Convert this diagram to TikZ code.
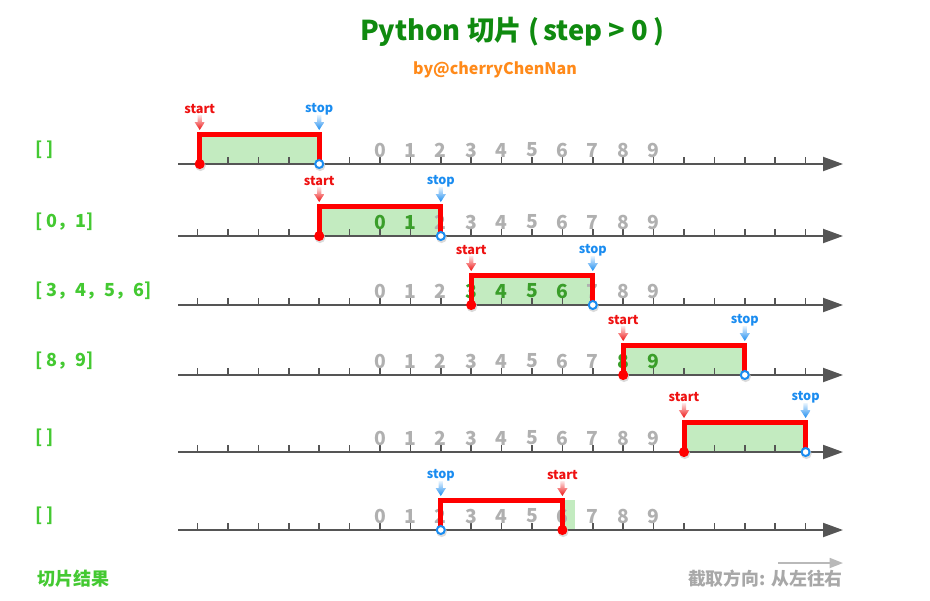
\documentclass[tikz,border=0pt]{standalone}
\usepackage{fontspec}
\setmainfont{Noto Sans CJK SC}
\usetikzlibrary{arrows.meta}

\definecolor{titlegreen}{RGB}{15,138,15}
\definecolor{authorange}{RGB}{255,138,26}
\definecolor{resgreen}{RGB}{68,201,50}
\definecolor{digitgreen}{RGB}{58,158,42}
\definecolor{digitgray}{RGB}{176,176,176}
\definecolor{axisgray}{RGB}{85,85,85}
\definecolor{slicegreen}{RGB}{195,235,192}
\definecolor{boxred}{RGB}{255,0,0}
\definecolor{startred}{RGB}{238,17,17}
\definecolor{stopblue}{RGB}{26,140,240}
\definecolor{notegray}{RGB}{168,168,168}

\begin{document}
\begin{tikzpicture}[
  x=0.75pt, y=-0.75pt,
  title/.style={font=\bfseries\fontsize{20.5}{24}\selectfont, text=titlegreen},
  author/.style={font=\bfseries\fontsize{12}{14}\selectfont, text=authorange},
  result/.style={font=\bfseries\fontsize{13.5}{15}\selectfont, text=resgreen, anchor=west, inner sep=0pt},
  note/.style={font=\bfseries\fontsize{13.4}{15}\selectfont, text=notegray, anchor=east, inner sep=0pt},
  digit/.style={font=\bfseries\fontsize{14.5}{16}\selectfont, inner sep=0pt},
  marklab/.style={font=\bfseries\fontsize{9.5}{10}\selectfont, inner sep=0pt},
  axisline/.style={draw=axisgray, line width=1.5pt, -{Triangle[length=15pt, width=10.5pt]}},
  tickmark/.style={draw=axisgray, line width=1.1pt},
  slicebox/.style={draw=boxred, line width=3.75pt, line join=miter},
  slicefill/.style={fill=slicegreen},
  dirarrow/.style={draw=notegray!80, line width=1.3pt, -{Triangle[length=10pt, width=7.5pt]}}
]
\useasboundingbox (0,0) rectangle (930,600);

% ---------- Title ----------
\node[title] (title) at (512,32) {Python 切片 (\,step > 0\,)};
\node[author] (author) at (495,70) {by@cherryChenNan};

% ---------- Rows: axis y / start / stop / fill end / green digits / result ----------
\foreach \ay/\ps/\pe/\pf/\lo/\hi/\txt [count=\r] in {
    164/-5.93/-2/-2/0/-1/{[ ]},
    236/-2/2/2/0/1/{[ 0，1]},
    305/3/7/7/3/6/{[ 3，4，5，6]},
    375/8/12/12/8/9/{[ 8，9]},
    452/10/14/14/0/-1/{[ ]},
    530/6/2/6.4/0/-1/{[ ]}}{
  \node[result] (res\r) at (35,\ay-14) {\txt};
  \begin{scope}[shift={(380,\ay)}, x=22.8pt]
    \fill[slicefill] (\ps,0) rectangle (\pf,-30);
    \draw[axisline] (-6.64,0) -- (15.23,0);
    \foreach \i in {-6,...,14}
      \draw[tickmark] (\i,0) -- (\i,-7);
    \foreach \i in {0,...,9}{
      \pgfmathtruncatemacro\isin{(\i>=\lo)&&(\i<=\hi)}
      \ifnum\isin=1 \def\dcol{digitgreen}\else\def\dcol{digitgray}\fi
      \node[digit, text=\dcol] (d\r-\i) at (\i,-14) {\i};
    }
    \draw[slicebox] (\ps,0) -- (\ps,-30) -- (\pe,-30) -- (\pe,0);
    % end points
    \fill[black!14] ([xshift=0.6pt,yshift=-1.3pt]\ps,0) circle (4pt);
    \fill[black!14] ([xshift=0.6pt,yshift=-1.3pt]\pe,0) circle (4pt);
    \fill[boxred] (\ps,0) circle (3.8pt);
    \draw[stopblue, line width=1.5pt, fill=white] (\pe,0) circle (3pt);
    % markers
    \node[marklab, text=startred] (start\r) at (\ps,-55) {start};
    \node[marklab, text=stopblue] (stop\r) at (\pe,-55) {stop};
    \shade[top color=startred!10, bottom color=startred]
      ([xshift=-1.6pt]\ps,-49) -- ([xshift=1.6pt]\ps,-49) -- ([xshift=1.6pt]\ps,-42)
      -- ([xshift=3.9pt]\ps,-42) -- (\ps,-34) -- ([xshift=-3.9pt]\ps,-42)
      -- ([xshift=-1.6pt]\ps,-42) -- cycle;
    \shade[top color=stopblue!10, bottom color=stopblue]
      ([xshift=-1.6pt]\pe,-49) -- ([xshift=1.6pt]\pe,-49) -- ([xshift=1.6pt]\pe,-42)
      -- ([xshift=3.9pt]\pe,-42) -- (\pe,-34) -- ([xshift=-3.9pt]\pe,-42)
      -- ([xshift=-1.6pt]\pe,-42) -- cycle;
  \end{scope}
}

% ---------- Legend ----------
\node[result] (legend) at (37,579) {切片结果};
\node[note] (dir) at (843,579) {截取方向: 从左往右};
\coordinate (dirA) at (778,563);
\coordinate (dirB) at (dir.east |- dirA);
\draw[dirarrow] (dirA) -- (dirB);
\end{tikzpicture}
\end{document}
